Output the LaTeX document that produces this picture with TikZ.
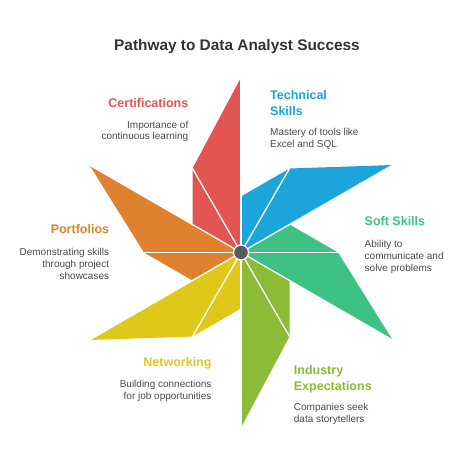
\documentclass[tikz,border=0pt]{standalone}
\usepackage{fontspec}
\setmainfont{Liberation Sans}
\definecolor{cred}{HTML}{E25552}
\definecolor{cblue}{HTML}{1CA5DA}
\definecolor{cteal}{HTML}{3DC283}
\definecolor{clime}{HTML}{8CBB37}
\definecolor{cyel}{HTML}{DEC91B}
\definecolor{corg}{HTML}{E0812F}
\definecolor{chub}{HTML}{5B5B5B}
\definecolor{ctext}{HTML}{4A4A4A}
\definecolor{ctitle}{HTML}{333333}
\tikzset{
  sep/.style={white, line width=1.3pt},
  ttl/.style={inner sep=0pt, font=\fontsize{12.5}{15}\selectfont\bfseries},
  dsc/.style={inner sep=0pt, text=ctext, font=\fontsize{10}{12}\selectfont},
  bigttl/.style={inner sep=0pt, text=ctitle, font=\fontsize{15.4}{18}\selectfont\bfseries}
}
\begin{document}
\begin{tikzpicture}[x=1pt,y=-1pt]
\useasboundingbox[fill=white] (0,0) rectangle (474,458);
\node[bigttl, anchor=base] (title) at (237,50) {Pathway to Data Analyst Success};
\coordinate (C) at (241,252.5);
\begin{scope}[shift={(C)}]
  \foreach \t/\c in {90/cred,30/cblue,-30/cteal,-90/clime,-150/cyel,150/corg}{
    \fill[\c] (0,0) -- (\t:175pt) -- ({\t+30}:97pt) -- ({\t+60}:56pt) -- cycle;
  }
  \foreach \t in {90,30,-30,-90,-150,150}{
    \draw[sep] (0,0) -- (\t:175pt);
    \draw[sep] (0,0) -- ({\t+30}:97pt);
  }
\end{scope}
\node[circle, fill=chub, draw=white, line width=1.2pt, minimum size=15pt, inner sep=0pt] (hub) at (C) {};
% Certifications
\node[ttl, text=cred, anchor=base east] (certT) at (188.5,107) {Certifications};
\node[dsc, anchor=base east] (certD1) at (188.5,128) {Importance of};
\node[dsc, anchor=base east] (certD2) at (188.5,139.7) {continuous learning};
% Technical
\node[ttl, text=cblue, anchor=base west] (techT1) at (270,99.5) {Technical};
\node[ttl, text=cblue, anchor=base west] (techT2) at (270,115.2) {Skills};
\node[dsc, anchor=base west] (techD1) at (270,135.8) {Mastery of tools like};
\node[dsc, anchor=base west] (techD2) at (270,147.5) {Excel and SQL};
% Soft skills
\node[ttl, text=cteal, anchor=base west] (softT) at (364.5,225.2) {Soft Skills};
\node[dsc, anchor=base west] (softD1) at (364.5,247.8) {Ability to};
\node[dsc, anchor=base west] (softD2) at (364.5,259.5) {communicate and};
\node[dsc, anchor=base west] (softD3) at (364.5,271.2) {solve problems};
% Portfolios
\node[ttl, text=corg, anchor=base east] (portT) at (109.3,233.2) {Portfolios};
\node[dsc, anchor=base east] (portD1) at (109.3,255.5) {Demonstrating skills};
\node[dsc, anchor=base east] (portD2) at (109.3,267.3) {through project};
\node[dsc, anchor=base east] (portD3) at (109.3,279) {showcases};
% Networking
\node[ttl, text=cyel, anchor=base east] (netT) at (211.7,366.8) {Networking};
\node[dsc, anchor=base east] (netD1) at (211.7,387.5) {Building connections};
\node[dsc, anchor=base east] (netD2) at (211.7,399.2) {for job opportunities};
% Industry
\node[ttl, text=clime, anchor=base west] (indT1) at (293.7,374.5) {Industry};
\node[ttl, text=clime, anchor=base west] (indT2) at (293.7,390.5) {Expectations};
\node[dsc, anchor=base west] (indD1) at (293.7,410.8) {Companies seek};
\node[dsc, anchor=base west] (indD2) at (293.7,422.8) {data storytellers};
\end{tikzpicture}
\end{document}
